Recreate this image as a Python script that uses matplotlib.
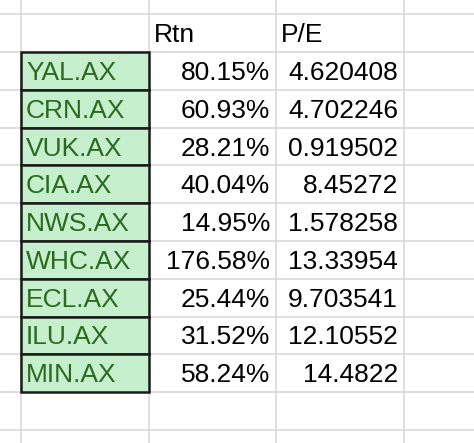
import matplotlib.pyplot as plt
from matplotlib.patches import Rectangle

tickers = ['YAL.AX', 'CRN.AX', 'VUK.AX', 'CIA.AX', 'NWS.AX',
           'WHC.AX', 'ECL.AX', 'ILU.AX', 'MIN.AX']
returns = ['80.15%', '60.93%', '28.21%', '40.04%', '14.95%',
           '176.58%', '25.44%', '31.52%', '58.24%']
pe = ['4.620408', '4.702246', '0.919502', '8.45272', '1.578258',
      '13.33954', '9.703541', '12.10552', '14.4822']
headers = ['', 'Rtn', 'P/E']

W, H = 474, 443
col_x = [21, 149, 276, 404]
row_h = 37.8
top = 52
fs = 19
font = 'Liberation Sans'

fig = plt.figure(figsize=(W / 100, H / 100), dpi=100)
ax = fig.add_axes([0, 0, 1, 1])
ax.set_xlim(0, W)
ax.set_ylim(H, 0)
ax.axis('off')

grid = '#d9d9d9'
for x in col_x:
    ax.axvline(x, color=grid, lw=1.2)
y = top - row_h
while y < H:
    ax.axhline(y, color=grid, lw=1.2)
    y += row_h

# header
for j, h in enumerate(headers):
    ax.text(col_x[j] + 5, top - row_h / 2 + 2, h, fontsize=fs, family=font,
            ha='left', va='center', color='black')

for i, t in enumerate(tickers):
    y0 = top + i * row_h
    ax.add_patch(Rectangle((col_x[0], y0), col_x[1] - col_x[0], row_h,
                           facecolor='#c6efce', edgecolor='#1a1a1a', lw=1.8, zorder=3))
    ax.text(col_x[0] + 5, y0 + row_h / 2 + 2, t, fontsize=fs, family=font,
            ha='left', va='center', color='#2b6a1f', zorder=4)
    ax.text(col_x[2] - 6, y0 + row_h / 2 + 2, returns[i], fontsize=fs, family=font,
            ha='right', va='center', color='black')
    ax.text(col_x[3] - 6, y0 + row_h / 2 + 2, pe[i], fontsize=fs, family=font,
            ha='right', va='center', color='black')

fig.savefig('out.png', dpi=100, facecolor='white')
